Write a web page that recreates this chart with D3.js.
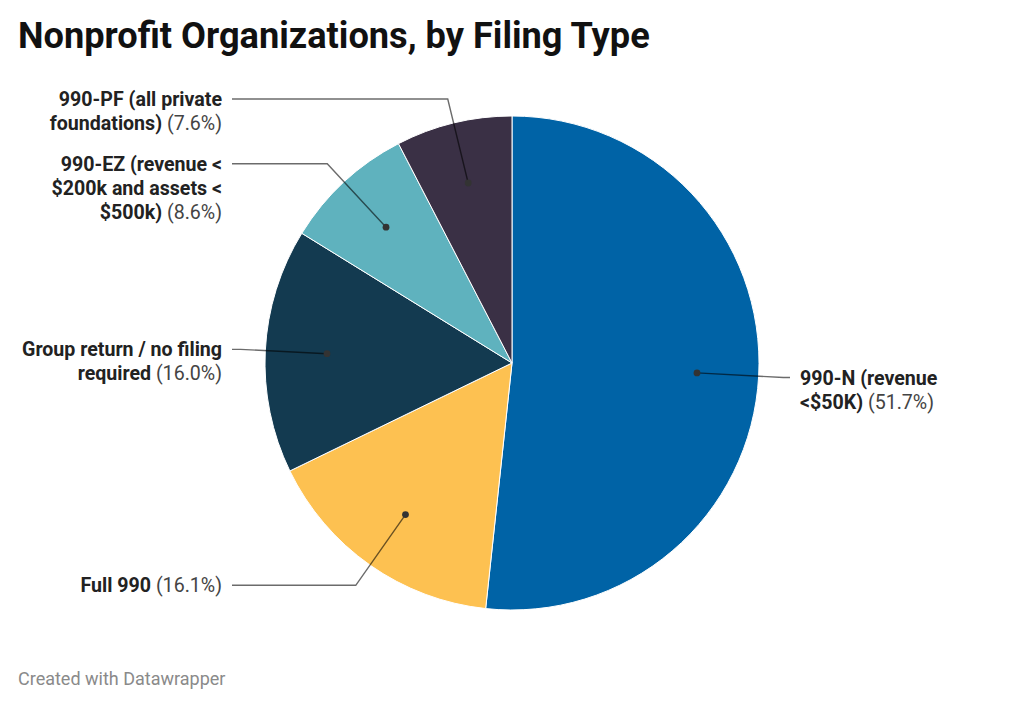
<!DOCTYPE html>
<html>
<head>
<meta charset="utf-8">
<script src="https://cdn.jsdelivr.net/npm/d3@7"></script>
<style>
  html, body { margin: 0; padding: 0; background: #fff; }
  svg { display: block; font-family: Roboto, "Noto Sans", sans-serif; }
</style>
</head>
<body>
<svg id="chart" width="1024" height="707"></svg>
<script>
// ---- data ----
const categories = ["990-N (revenue <$50K)", "Full 990", "Group return / no filing required", "990-EZ (revenue < $200k and assets < $500k)", "990-PF (all private foundations)"];
const labelLines = [
  ["990-N (revenue", "<$50K)"],
  ["Full 990"],
  ["Group return / no filing", "required"],
  ["990-EZ (revenue <", "$200k and assets <", "$500k)"],
  ["990-PF (all private", "foundations)"]
];
const values = [51.7, 16.1, 16.0, 8.6, 7.6];
const colors = ["#0063a6", "#fdc151", "#133a50", "#5fb2be", "#3a3045"];

const title = "Nonprofit Organizations, by Filing Type";
const footer = "Created with Datawrapper";

// ---- layout ----
const svg = d3.select("#chart");
const cx = 512, cy = 363, r = 247;

svg.append("text")
  .attr("x", 18).attr("y", 48)
  .attr("font-size", 36.2).attr("font-weight", 700)
  .attr("fill", "#111")
  .text(title);

svg.append("text")
  .attr("x", 18).attr("y", 685)
  .attr("font-size", 18)
  .attr("fill", "#8a8a8a")
  .text(footer);

const data = values.map((v, i) => ({ v, i, name: categories[i], lines: labelLines[i], color: colors[i] }));
const pie = d3.pie().value(d => d.v).sort(null);
const arcs = pie(data);
const arc = d3.arc().innerRadius(0).outerRadius(r);

const g = svg.append("g").attr("transform", `translate(${cx},${cy})`);

g.selectAll("path.slice")
  .data(arcs)
  .join("path")
  .attr("class", "slice")
  .attr("d", arc)
  .attr("fill", d => d.data.color)
  .attr("stroke", "#fff")
  .attr("stroke-width", 1);

const fmt = d3.format(".1f");
const lineH = 24;

arcs.forEach(a => {
  const mid = (a.startAngle + a.endAngle) / 2;
  const dx = Math.sin(mid), dy = -Math.cos(mid);
  const p0 = [dx * r * 0.75, dy * r * 0.75];
  const p1 = [dx * r * 1.1, dy * r * 1.1];
  const right = dx > 0;
  const endX = right ? 278 : -280;
  const textX = right ? 288 : -290;

  g.append("polyline")
    .attr("points", [p0, p1, [endX, p1[1]]].map(p => p.join(",")).join(" "))
    .attr("fill", "none")
    .attr("stroke", "#000")
    .attr("stroke-opacity", 0.58)
    .attr("stroke-width", 1.4);

  g.append("circle")
    .attr("cx", p0[0]).attr("cy", p0[1]).attr("r", 3.4)
    .attr("fill", "#333");

  const t = g.append("text")
    .attr("x", textX)
    .attr("y", p1[1] + 7)
    .attr("font-size", 19.6)
    .attr("text-anchor", right ? "start" : "end")
    .attr("fill", "#222");

  const lines = a.data.lines;
  lines.forEach((ln, k) => {
    t.append("tspan")
      .attr("x", textX)
      .attr("dy", k === 0 ? 0 : lineH)
      .attr("font-weight", 700)
      .attr("fill", "#222")
      .text(ln);
    if (k === lines.length - 1) {
      t.append("tspan")
        .attr("font-weight", 400)
        .attr("fill", "#444")
        .text(" (" + fmt(a.data.v) + "%)");
    }
  });
});
</script>
</body>
</html>
